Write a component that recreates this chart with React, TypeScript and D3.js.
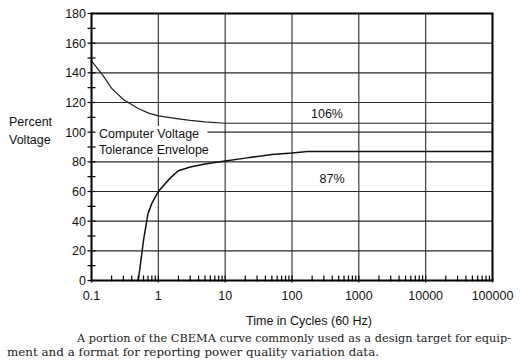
import * as d3 from 'd3';
import React from 'react';

// values
const upperTime = [0.1, 0.15, 0.2, 0.3, 0.5, 0.7, 1, 2, 3, 5, 10, 100000];
const upperPct = [148, 138, 129.5, 122, 116, 113, 111, 109, 108, 107, 106, 106];
const lowerTime = [0.5, 0.54, 0.6, 0.7, 0.8, 1, 1.5, 2, 3, 5, 10, 20, 50, 100, 170, 100000];
const lowerPct = [0, 11, 27, 45, 52, 60, 69, 74, 76.5, 78.5, 80.5, 82.5, 85, 86, 87, 87];
const xTicks = [0.1, 1, 10, 100, 1000, 10000, 100000];
const xTickLabels = ['0.1', '1', '10', '100', '1000', '10000', '100000'];
const yTicks = [0, 20, 40, 60, 80, 100, 120, 140, 160, 180];
const yMinor = [10, 30, 50, 70, 90, 110, 130, 150, 170];

const W = 520;
const H = 362;
const sans = 'Liberation Sans, Arial, sans-serif';
const serif = 'DejaVu Serif, serif';

const App: React.FC = () => {
  const x = d3.scaleLog().domain([0.1, 100000]).range([91.5, 492.5]);
  const y = d3.scaleLinear().domain([0, 180]).range([280.5, 13.5]);

  const xMinor: number[] = [];
  for (let dec = 0.1; dec < 100000; dec *= 10) {
    for (let m = 2; m <= 9; m++) xMinor.push(dec * m);
  }

  const lineGen = d3
    .line<[number, number]>()
    .x((d) => x(d[0]))
    .y((d) => y(d[1]));
  const upper = lineGen(upperTime.map((t, i) => [t, upperPct[i]]) as [number, number][]) || '';
  const lower = lineGen(lowerTime.map((t, i) => [t, lowerPct[i]]) as [number, number][]) || '';

  const [x0, x1] = x.range();
  const [yb, yt] = y.range();

  return (
    <svg width={W} height={H} style={{ position: 'absolute', left: 0, top: 0, background: '#fff' }}>
      <rect width={W} height={H} fill="#fff" />
      {/* grid */}
      {yTicks.slice(1, -1).map((v) => (
        <line key={'gy' + v} x1={x0} x2={x1} y1={y(v)} y2={y(v)} stroke="#2a2a2a" strokeWidth={1.1} />
      ))}
      {xTicks.slice(1, -1).map((v) => (
        <line key={'gx' + v} x1={x(v)} x2={x(v)} y1={yt} y2={yb} stroke="#2a2a2a" strokeWidth={1.1} />
      ))}
      {/* legend box hides grid */}
      <rect x={x0 + 1} y={126} width={115} height={31} fill="#fff" />
      <text x={99} y={137.5} fontFamily={sans} fontSize={12.5} fill="#111">Computer Voltage</text>
      <text x={99} y={153.5} fontFamily={sans} fontSize={12.5} fill="#111">Tolerance Envelope</text>

      {/* curves */}
      <path d={upper} fill="none" stroke="#222" strokeWidth={1.2} />
      <path d={lower} fill="none" stroke="#111" strokeWidth={1.5} />

      {/* frame */}
      <line x1={x0} x2={x1 + 1} y1={yt} y2={yt} stroke="#000" strokeWidth={2} />
      <line x1={x1} x2={x1} y1={yt} y2={yb} stroke="#000" strokeWidth={2} />
      <line x1={x0} x2={x0} y1={yt - 1} y2={yb + 1} stroke="#000" strokeWidth={2} />
      <line x1={x0} x2={x1 + 1} y1={yb} y2={yb} stroke="#000" strokeWidth={2} />

      {/* y ticks */}
      {yTicks.map((v) => (
        <g key={'yt' + v}>
          <line x1={x0 - 4} x2={x0 + 4} y1={y(v)} y2={y(v)} stroke="#000" strokeWidth={1.2} />
          <text x={86} y={y(v)} dy="0.35em" textAnchor="end" fontFamily={sans} fontSize={12.5} fill="#111">
            {v}
          </text>
        </g>
      ))}
      {yMinor.map((v) => (
        <line key={'ym' + v} x1={x0 - 4} x2={x0 + 4} y1={y(v)} y2={y(v)} stroke="#000" strokeWidth={1.2} />
      ))}

      {/* x ticks */}
      {xMinor.map((v) => (
        <line key={'xm' + v} x1={x(v)} x2={x(v)} y1={yb - 5} y2={yb + 1} stroke="#000" strokeWidth={1.2} />
      ))}
      {xTicks.map((v, i) => (
        <g key={'xt' + v}>
          <line x1={x(v)} x2={x(v)} y1={yb - 5} y2={yb + 2} stroke="#000" strokeWidth={1.2} />
          <text x={x(v)} y={296} dy="0.35em" textAnchor="middle" fontFamily={sans} fontSize={12.5} fill="#111">
            {xTickLabels[i]}
          </text>
        </g>
      ))}

      {/* annotations */}
      <text x={327} y={114} dy="0.35em" textAnchor="middle" fontFamily={sans} fontSize={12.5} fill="#111">106%</text>
      <text x={332} y={179} dy="0.35em" textAnchor="middle" fontFamily={sans} fontSize={12.5} fill="#111">87%</text>

      {/* axis titles */}
      <text x={9} y={121.5} dy="0.35em" fontFamily={sans} fontSize={12.5} fill="#111">Percent</text>
      <text x={9} y={140} dy="0.35em" fontFamily={sans} fontSize={12.5} fill="#111">Voltage</text>
      <text x={309} y={321} dy="0.35em" textAnchor="middle" fontFamily={sans} fontSize={12.5} fill="#111">
        Time in Cycles (60 Hz)
      </text>

      {/* caption */}
      <text x={77} y={338} dy="0.35em" fontFamily={serif} fontSize={11.5} fill="#222"
        textLength={434} lengthAdjust="spacingAndGlyphs">
        A portion of the CBEMA curve commonly used as a design target for equip-
      </text>
      <text x={7} y={352} dy="0.35em" fontFamily={serif} fontSize={11.5} fill="#222"
        textLength={372} lengthAdjust="spacingAndGlyphs">
        ment and a format for reporting power quality variation data.
      </text>
    </svg>
  );
};

export default App;
